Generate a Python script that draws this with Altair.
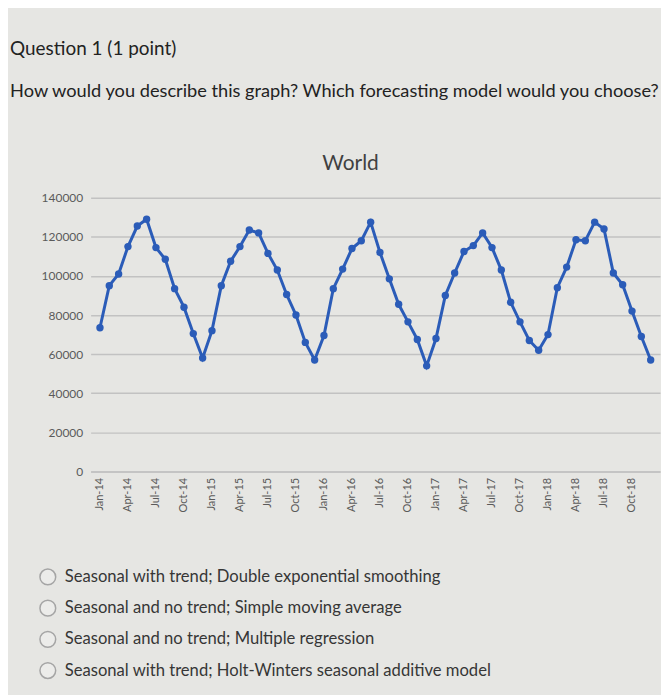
import altair as alt
import pandas as pd

# ---- data ----
years = ["14", "15", "16", "17", "18"]
month_names = ["Jan", "Feb", "Mar", "Apr", "May", "Jun",
               "Jul", "Aug", "Sep", "Oct", "Nov", "Dec"]
months = [f"{m}-{y}" for y in years for m in month_names]

values = [
    73500, 95000, 101000, 115000, 125500, 129000, 114500, 108500, 93500, 84000, 70500, 58000,
    72000, 95000, 107500, 115000, 123500, 122000, 111500, 103000, 90500, 80000, 66000, 57000,
    69500, 93500, 103500, 114000, 118000, 127500, 112000, 98500, 85500, 76500, 67500, 54000,
    68000, 90000, 101500, 112500, 115500, 122000, 114500, 103000, 86500, 76500, 67000, 62000,
    70000, 94000, 104500, 118500, 118000, 127500, 124000, 101500, 95500, 82000, 69000, 57000,
]

tick_labels = ["Jan-14", "Apr-14", "Jul-14", "Oct-14", "Jan-15", "Apr-15", "Jul-15", "Oct-15",
               "Jan-16", "Apr-16", "Jul-16", "Oct-16", "Jan-17", "Apr-17", "Jul-17", "Oct-17",
               "Jan-18", "Apr-18", "Jul-18", "Oct-18"]
y_ticks = [0, 20000, 40000, 60000, 80000, 100000, 120000, 140000]

question_header = "Question 1 (1 point)"
question_text = "How would you describe this graph? Which forecasting model would you choose?"
chart_title = "World"
options = [
    "Seasonal with trend; Double exponential smoothing",
    "Seasonal and no trend; Simple moving average",
    "Seasonal and no trend; Multiple regression",
    "Seasonal with trend; Holt-Winters seasonal additive model",
]

FONT = "Lato"
BLUE = "#2b5cb8"

df = pd.DataFrame({"month": months, "value": values})

base = alt.Chart(df).encode(
    x=alt.X("month:O", sort=months,
            scale=alt.Scale(type="point", padding=1.07),
            axis=alt.Axis(values=tick_labels, labelAngle=270, title=None, ticks=False,
                          domainColor="#c2c2c2", domainWidth=1.5, labelColor="#5a5a5a",
                          labelFontSize=11, labelFont=FONT, labelPadding=6, grid=False)),
    y=alt.Y("value:Q", scale=alt.Scale(domain=[0, 140000]),
            axis=alt.Axis(values=y_ticks, format="d", title=None, ticks=False, domain=False,
                          gridColor="#c2c2c2", gridWidth=1.5, labelColor="#5a5a5a",
                          labelFontSize=12, labelFont=FONT, labelPadding=8)),
)
line = base.mark_line(color=BLUE, strokeWidth=3)
pts = base.mark_point(filled=True, size=55, color=BLUE, opacity=1)
main = (line + pts).properties(
    width=572, height=275,
    title=alt.TitleParams(chart_title, fontSize=21, color="#404040", font=FONT,
                          fontWeight="normal", offset=18, frame="bounds"),
)

opt_df = pd.DataFrame({"option": options})
ob = alt.Chart(opt_df).encode(
    y=alt.Y("option:N", sort=options, scale=alt.Scale(type="point", padding=0), axis=None)
)
circles = ob.mark_circle(size=250, fill="#ececea", stroke="#a5a5a5", strokeWidth=1.5,
                         opacity=1).encode(x=alt.value(-43))
texts = ob.mark_text(align="left", baseline="middle", dx=17, fontSize=16.7, font=FONT,
                     color="#363636").encode(x=alt.value(-43), text="option:N")
opts = (circles + texts).properties(width=572, height=94)

chart = alt.vconcat(
    main, opts, spacing=106, bounds="flush",
    title=alt.TitleParams(question_header, subtitle=question_text, anchor="start",
                          fontSize=19, subtitleFontSize=18.3, font=FONT, subtitleFont=FONT,
                          color="#222222", subtitleColor="#222222", fontWeight="normal",
                          subtitlePadding=24, offset=53, dx=-27),
).properties(
    background="#e6e6e3",
    padding={"left": 2, "top": 30, "right": 0, "bottom": 12},
).configure_view(strokeWidth=0)

chart.save("out.html", embed_options={"renderer": "svg", "actions": False})
